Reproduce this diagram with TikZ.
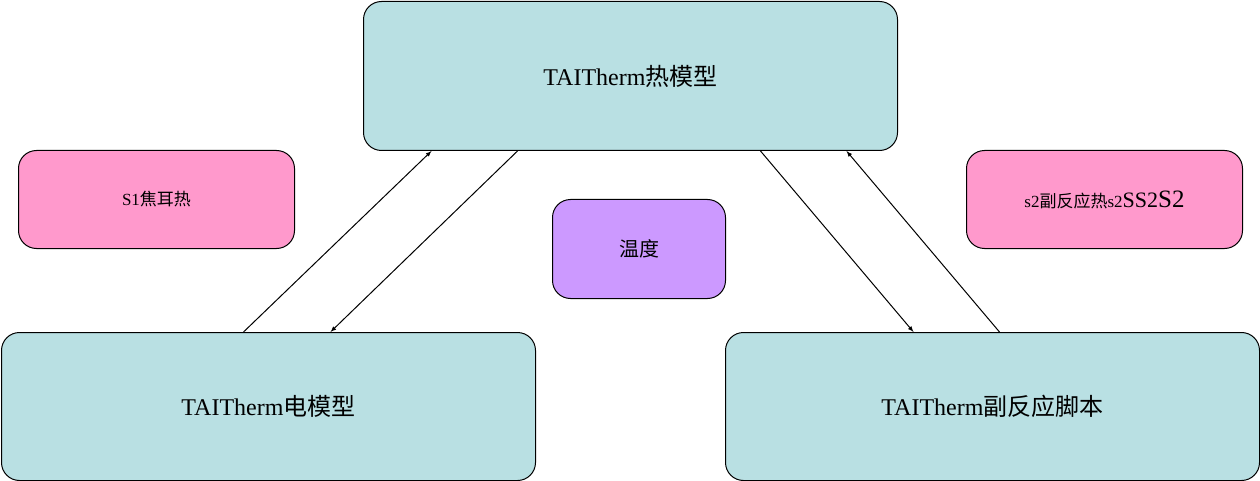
\documentclass[tikz,border=0pt]{standalone}
\usepackage{fontspec}
\setmainfont{Liberation Serif}
\newfontfamily\cjk{Noto Sans CJK SC}
\definecolor{teal}{HTML}{B9E0E3}
\definecolor{pinkc}{HTML}{FF99CC}
\definecolor{purp}{HTML}{CC99FF}
\tikzset{box/.style={draw,line width=1pt,rounded corners=18pt,anchor=north west,inner sep=0pt},
 arr/.style={line width=1pt,-latex}}
\begin{document}
\begin{tikzpicture}[x=1pt,y=-1pt]
\useasboundingbox (0,0) rectangle (1260,481);
\node[box,fill=teal,minimum width=534pt,minimum height=149pt] (top) at (363,1) {};
\node[font=\fontsize{24}{28}\selectfont] (toptx) at (top.center) {TAITherm{\cjk 热模型}};
\node[box,fill=pinkc,minimum width=276pt,minimum height=98pt] (p1) at (18,150) {};
\node[font=\fontsize{17}{20}\selectfont] (p1tx) at (p1.center) {S1{\cjk 焦耳热}};
\node[box,fill=purp,minimum width=173pt,minimum height=99pt] (t) at (552,199) {};
\node[font=\fontsize{20}{24}\selectfont] (ttx) at (t.center) {\cjk 温度};
\node[box,fill=pinkc,minimum width=276pt,minimum height=98pt] (p2) at (966,150) {};
\node (p2tx) at (p2.center) {\fontsize{17}{20}\selectfont s2{\cjk 副反应热}s2\fontsize{22}{24}\selectfont SS2\fontsize{25}{28}\selectfont S2};
\node[box,fill=teal,minimum width=534pt,minimum height=148pt] (bl) at (1,332) {};
\node[font=\fontsize{24}{28}\selectfont] (bltx) at (bl.center) {TAITherm{\cjk 电模型}};
\node[box,fill=teal,minimum width=534pt,minimum height=148pt] (br) at (725,332) {};
\node[font=\fontsize{24}{28}\selectfont] (brtx) at (br.center) {TAITherm{\cjk 副反应脚本}};
\draw[arr] ([xshift=-25pt]bl.north) -- ([xshift=-199pt]top.south);
\draw[arr] ([xshift=-113pt]top.south) -- ([xshift=62pt]bl.north);
\draw[arr] ([xshift=130pt]top.south) -- ([xshift=-79pt]br.north);
\draw[arr] ([xshift=7pt]br.north) -- ([xshift=216pt]top.south);
\end{tikzpicture}
\end{document}
